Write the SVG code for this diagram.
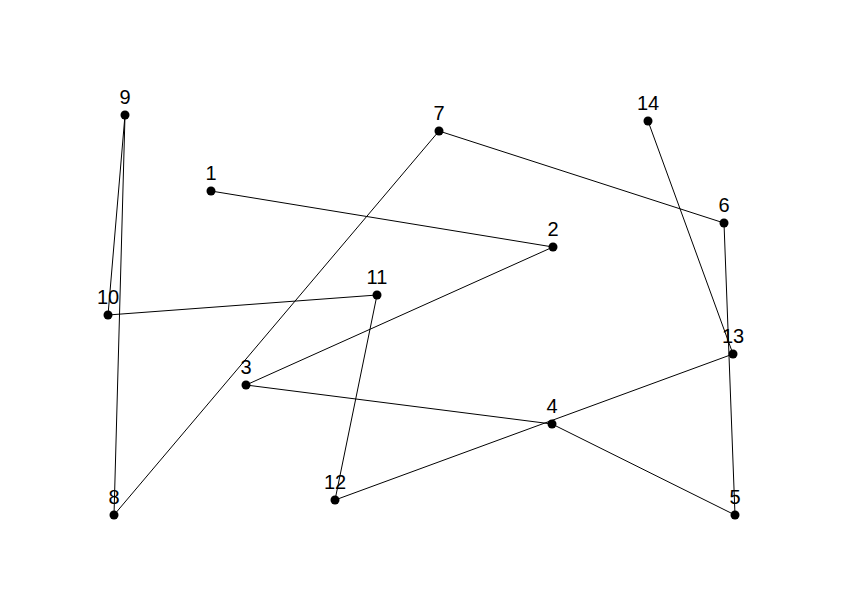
<svg xmlns="http://www.w3.org/2000/svg" width="842" height="595" viewBox="0 0 842 595">
<style>
line{stroke:#000;stroke-width:1}
circle{fill:#000}
text{font-family:"Liberation Sans",Arial,sans-serif;font-size:20px;text-anchor:middle;fill:#000}
</style>
<rect width="842" height="595" fill="#fff"/>
<g id="connectors">
<line x1="211" y1="191" x2="553" y2="247"/>
<line x1="553" y1="247" x2="246" y2="385"/>
<line x1="246" y1="385" x2="552" y2="424"/>
<line x1="552" y1="424" x2="735" y2="515"/>
<line x1="335" y1="500" x2="733" y2="354"/>
<line x1="439" y1="131" x2="724" y2="223"/>
<line x1="439" y1="131" x2="114" y2="515"/>
<line x1="724" y1="223" x2="735" y2="515"/>
<line x1="648" y1="121" x2="733" y2="354"/>
<line x1="125" y1="115" x2="108" y2="315"/>
<line x1="125" y1="115" x2="114" y2="515"/>
<line x1="108" y1="315" x2="377" y2="295"/>
<line x1="377" y1="295" x2="335" y2="500"/>
</g>
<g id="n1"><circle cx="211" cy="191" r="4.5"/><text x="211" y="180">1</text></g>
<g id="n2"><circle cx="553" cy="247" r="4.5"/><text x="553" y="236">2</text></g>
<g id="n3"><circle cx="246" cy="385" r="4.5"/><text x="246" y="374">3</text></g>
<g id="n4"><circle cx="552" cy="424" r="4.5"/><text x="552" y="413">4</text></g>
<g id="n5"><circle cx="735" cy="515" r="4.5"/><text x="735" y="504">5</text></g>
<g id="n6"><circle cx="724" cy="223" r="4.5"/><text x="724" y="212">6</text></g>
<g id="n7"><circle cx="439" cy="131" r="4.5"/><text x="439" y="120">7</text></g>
<g id="n8"><circle cx="114" cy="515" r="4.5"/><text x="114" y="504">8</text></g>
<g id="n9"><circle cx="125" cy="115" r="4.5"/><text x="125" y="104">9</text></g>
<g id="n10"><circle cx="108" cy="315" r="4.5"/><text x="108" y="304">10</text></g>
<g id="n11"><circle cx="377" cy="295" r="4.5"/><text x="377" y="284">11</text></g>
<g id="n12"><circle cx="335" cy="500" r="4.5"/><text x="335" y="489">12</text></g>
<g id="n13"><circle cx="733" cy="354" r="4.5"/><text x="733" y="343">13</text></g>
<g id="n14"><circle cx="648" cy="121" r="4.5"/><text x="648" y="110">14</text></g>
</svg>
